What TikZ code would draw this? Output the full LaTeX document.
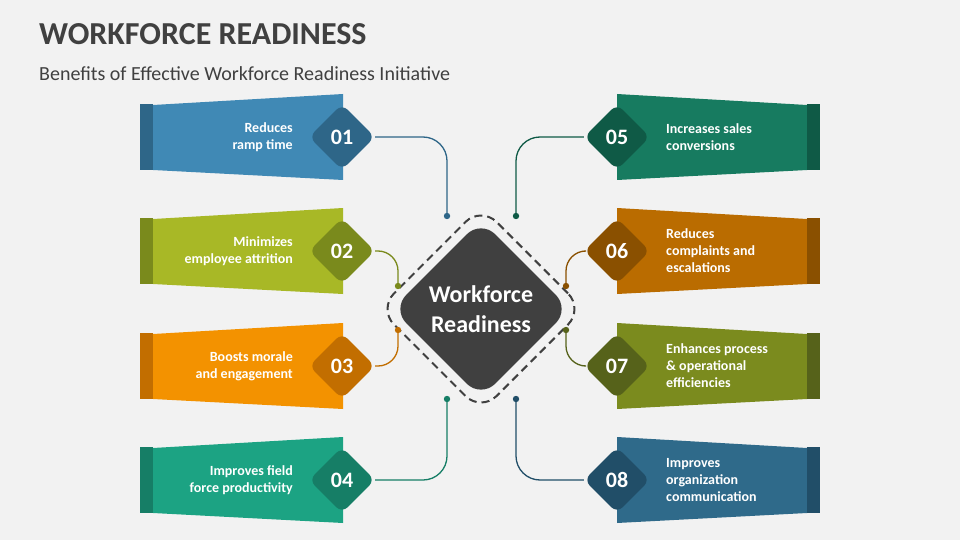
\documentclass[tikz,border=0pt]{standalone}
\usepackage{fontspec}
\setmainfont{Carlito}
\usetikzlibrary{shapes.geometric}
\definecolor{bgc}{HTML}{F2F2F2}
\definecolor{tc}{HTML}{404040}
\definecolor{cA}{HTML}{4089B5}\definecolor{dA}{HTML}{2E6688}
\definecolor{cB}{HTML}{A8B826}\definecolor{dB}{HTML}{7A8A1C}
\definecolor{cC}{HTML}{F39200}\definecolor{dC}{HTML}{C26E00}
\definecolor{cD}{HTML}{1CA383}\definecolor{dD}{HTML}{167E66}
\definecolor{cE}{HTML}{177B60}\definecolor{dE}{HTML}{0F5A46}
\definecolor{cF}{HTML}{BA6C00}\definecolor{dF}{HTML}{8A5000}
\definecolor{cG}{HTML}{7B8B1E}\definecolor{dG}{HTML}{56621A}
\definecolor{cH}{HTML}{2F6A8A}\definecolor{dH}{HTML}{214E68}
\tikzset{
 numd/.style={diamond,minimum width=66pt,minimum height=66pt,inner sep=0pt,rounded corners=8pt,text=white,font=\bfseries\fontsize{22}{22}\selectfont},
 btxt/.style={text=white,font=\bfseries\fontsize{14}{17}\selectfont,inner sep=0pt},
 conn/.style={line width=1.3pt,rounded corners=24pt},
}
\newcommand\lban[5]{%
 \fill[#2] (153,#1-32)--(343,#1-43)--(343,#1+43)--(153,#1+33)--cycle;
 \fill[#3] (140,#1-33) rectangle (153,#1+33);
 \node[btxt,align=right,anchor=east] (t#4) at (293,#1) {#5};
 \node[numd,fill=#3] (n#4) at (342,#1) {#4};}
\newcommand\rban[5]{%
 \fill[#2] (807,#1-32)--(617,#1-43)--(617,#1+43)--(807,#1+33)--cycle;
 \fill[#3] (807,#1-33) rectangle (820,#1+33);
 \node[btxt,align=left,anchor=west] (t#4) at (666,#1) {#5};
 \node[numd,fill=#3] (n#4) at (617,#1) {#4};}
\begin{document}
\begin{tikzpicture}[x=1pt,y=-1pt]
\fill[bgc] (0,0) rectangle (960,540);
\useasboundingbox (0,0) rectangle (960,540);
\node[anchor=west,text=tc,font=\bfseries\fontsize{32}{32}\selectfont,inner sep=0pt] (title) at (39,34) {WORKFORCE READINESS};
\node[anchor=west,text=tc,font=\fontsize{20}{20}\selectfont,inner sep=0pt] (sub) at (39,74) {Benefits of Effective Workforce Readiness Initiative};
% center
\node[diamond,minimum width=206pt,minimum height=206pt,draw=tc,dashed,line width=2pt,dash pattern=on 8pt off 5pt,rounded corners=22pt] (dash) at (481,309) {};
\node[diamond,minimum width=178pt,minimum height=178pt,fill=tc,rounded corners=20pt,inner sep=0pt,text=white,align=center,font=\bfseries\fontsize{24}{30}\selectfont] (core) at (481,309) {Workforce\\Readiness};
% banners
\lban{137}{cA}{dA}{01}{Reduces\\ramp time}
\lban{251}{cB}{dB}{02}{Minimizes\\employee attrition}
\lban{366}{cC}{dC}{03}{Boosts morale\\and engagement}
\lban{480}{cD}{dD}{04}{Improves field\\force productivity}
\rban{137}{cE}{dE}{05}{Increases sales\\conversions}
\rban{251}{cF}{dF}{06}{Reduces\\complaints and\\escalations}
\rban{366}{cG}{dG}{07}{Enhances process\\\& operational\\efficiencies}
\rban{480}{cH}{dH}{08}{Improves\\organization\\communication}
% connector ends
\coordinate (e1) at (447,216);\coordinate (e2) at (398,286);
\coordinate (e3) at (398,330);\coordinate (e4) at (447,399);
\coordinate (e5) at (516,216);\coordinate (e6) at (566,286);
\coordinate (e7) at (566,330);\coordinate (e8) at (516,399);
\draw[conn,dA] (n01.east) -- (447,137) -- (e1);
\draw[conn,dB,rounded corners=20pt] (n02.east) -- (398,251) -- (e2);
\draw[conn,dC,rounded corners=20pt] (n03.east) -- (398,366) -- (e3);
\draw[conn,dD] (n04.east) -- (447,480) -- (e4);
\draw[conn,dE] (n05.west) -- (516,137) -- (e5);
\draw[conn,dF,rounded corners=20pt] (n06.west) -- (566,251) -- (e6);
\draw[conn,dG,rounded corners=20pt] (n07.west) -- (566,366) -- (e7);
\draw[conn,dH] (n08.west) -- (516,480) -- (e8);
\fill[dA] (e1) circle (3.2);\fill[dB] (e2) circle (3.2);
\fill[dC] (e3) circle (3.2);\fill[dD] (e4) circle (3.2);
\fill[dE] (e5) circle (3.2);\fill[dF] (e6) circle (3.2);
\fill[dG] (e7) circle (3.2);\fill[dH] (e8) circle (3.2);
\end{tikzpicture}
\end{document}
